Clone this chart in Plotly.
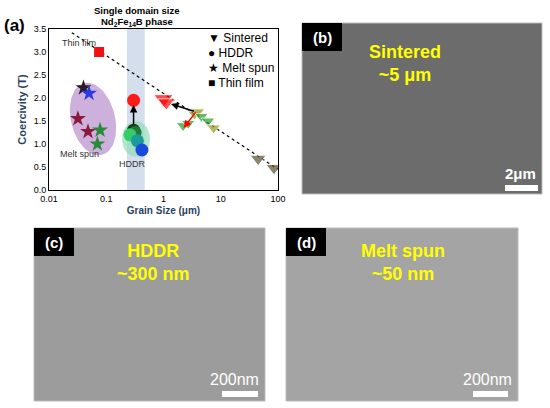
import numpy as np
import plotly.graph_objects as go

# ---- data ----
sint_x = [1.0, 1.12, 2.2, 2.7, 3.5, 4.0, 4.6, 6.0, 7.5, 45, 85]
sint_y = [1.98, 1.9, 1.4, 1.45, 1.65, 1.7, 1.6, 1.5, 1.35, 0.68, 0.48]
sint_c = ["#ff0000", "#ff0000", "#22a022", "#22a022", "#8a9a1a", "#9a9a20", "#22a022",
          "#22a022", "#9a9a20", "#5a5030", "#5a5030"]
sint_s = [17, 15, 12, 12, 12, 12, 12, 12, 12, 14, 14]
hddr_x = [0.3, 0.3, 0.32, 0.26, 0.35, 0.42]
hddr_y = [1.95, 1.3, 1.25, 1.2, 1.07, 0.87]
hddr_c = ["#ff1a1a", "#1a3a1a", "#1f7a3a", "#33cc66", "#1a9a9a", "#1a4adc"]
melt_x = [0.04, 0.05, 0.032, 0.048, 0.078, 0.07]
melt_y = [2.22, 2.1, 1.55, 1.27, 1.3, 1.0]
melt_c = ["#2a1a2a", "#2a3ae0", "#8a1a3a", "#8a1a3a", "#2a8a3a", "#2a8a3a"]
film_x = [0.075]
film_y = [3.0]
trend_x = [0.025, 100]
trend_y = [3.42, 0.45]
x_ticks = [0.01, 0.1, 1, 10, 100]
x_labels = ["0.01", "0.1", "1", "10", "100"]

fig = go.Figure()

PX0, PX1, PY0, PY1 = 49, 278, 29, 190

def ellipse(cx, cy, a, b, ang, color):
    t = np.linspace(0, 2 * np.pi, 100)
    r = np.deg2rad(ang)
    ex = a * np.cos(t); ey = b * np.sin(t)
    pxs = cx + ex * np.cos(r) - ey * np.sin(r)
    pys = cy + ex * np.sin(r) + ey * np.cos(r)
    lx = -2 + (pxs - PX0) / (PX1 - PX0) * 4
    ly = 3.5 * (PY1 - pys) / (PY1 - PY0)
    fig.add_trace(go.Scatter(x=10 ** lx, y=ly, mode="lines", fill="toself",
                             fillcolor=color, line=dict(width=0), hoverinfo="skip",
                             showlegend=False))

ellipse(93, 119, 22, 37, -14, "rgba(190,150,210,0.75)")
ellipse(136, 139, 14, 18, 0, "rgba(140,220,180,0.65)")

fig.add_vrect(x0=0.23, x1=0.47, fillcolor="rgba(170,190,220,0.5)", line_width=0, layer="below")

fig.add_trace(go.Scatter(x=trend_x, y=trend_y, mode="lines",
                         line=dict(color="black", width=1.2, dash="dot"), showlegend=False))
fig.add_trace(go.Scatter(x=sint_x, y=sint_y, mode="markers",
                         marker=dict(symbol="triangle-down", color=sint_c, size=sint_s), showlegend=False))
fig.add_trace(go.Scatter(x=hddr_x, y=hddr_y, mode="markers",
                         marker=dict(symbol="circle", color=hddr_c, size=13), showlegend=False))
fig.add_trace(go.Scatter(x=melt_x, y=melt_y, mode="markers",
                         marker=dict(symbol="star", color=melt_c, size=12), showlegend=False))
fig.add_trace(go.Scatter(x=film_x, y=film_y, mode="markers",
                         marker=dict(symbol="square", color="#ee1111", size=10), showlegend=False))

def arrow(x0, y0, x1, y1, color):
    fig.add_annotation(x=np.log10(x1), y=y1, ax=np.log10(x0), ay=y0, xref="x", yref="y",
                       axref="x", ayref="y", showarrow=True, arrowhead=2, arrowsize=1,
                       arrowwidth=1.5, arrowcolor=color, text="")

arrow(3.6, 1.7, 1.35, 1.87, "black")
arrow(3.8, 1.72, 2.25, 1.35, "red")
arrow(0.3, 1.4, 0.3, 1.85, "black")

fig.update_xaxes(type="log", range=[-2, 2], tickvals=x_ticks, ticktext=x_labels, automargin=False,
                 domain=[PX0 / 550, PX1 / 550], showline=True, linecolor="black", mirror=True,
                 showgrid=False, ticks="", tickfont=dict(size=9, family="Arial", color="black"),
                 title=dict(text="<b>Grain Size (μm)</b>", font=dict(size=10, family="Arial"), standoff=4))
fig.update_yaxes(range=[0, 3.5], dtick=0.5, tickformat=".1f", automargin=False,
                 domain=[1 - PY1 / 408, 1 - PY0 / 408],
                 showline=True, linecolor="black", mirror=True, showgrid=False, ticks="",
                 zeroline=False, tickfont=dict(size=9, family="Arial", color="black"),
                 title=dict(text="<b>Coercivity (T)</b>", font=dict(size=11, family="Arial"), standoff=4))

def px(x, y):
    return x / 550, 1 - y / 408

def text(x, y, s, size, color="black", bold=False, anchor="center"):
    X, Y = px(x, y)
    fig.add_annotation(x=X, y=Y, xref="paper", yref="paper", text=("<b>%s</b>" % s) if bold else s,
                       showarrow=False, xanchor=anchor, yanchor="middle",
                       font=dict(size=size, color=color, family="Arial"))

text(137, 10, "Single domain size", 9.5, bold=True)
text(137, 22, "Nd<sub>2</sub>Fe<sub>14</sub>B phase", 9.5, bold=True)
text(2, 25, "(a)", 17, bold=True, anchor="left")
text(60, 43, "Thin film", 9, color="#333", anchor="left")
text(58, 154, "Melt spun", 9, color="#333", anchor="left")
text(117, 164, "HDDR", 9, color="#333", anchor="left")
for i, (sym, lab) in enumerate([("▼", "Sintered"), ("●", "HDDR"), ("★", "Melt spun"), ("■", "Thin film")]):
    text(206, 38 + i * 15, sym + " " + lab, 12, anchor="left")

# micrograph panels
panels = [
    (302, 23, 542, 194, "#6c6c6c", "(b)", "Sintered<br>~5 μm", 405, 63, "2μm", 505, 538, 188),
    (34, 228, 265, 401, "#9c9c9c", "(c)", "HDDR<br>~300 nm", 153, 262, "200nm", 222, 258, 394),
    (286, 228, 518, 401, "#a4a4a4", "(d)", "Melt spun<br>~50 nm", 403, 262, "200nm", 473, 508, 394),
]
for (x0, y0, x1, y1, col, lab, cap, cx, cy, sb, sbx0, sbx1, sby) in panels:
    X0, Y0 = px(x0, y0); X1, Y1 = px(x1, y1)
    fig.add_shape(type="rect", xref="paper", yref="paper", x0=X0, x1=X1, y0=Y1, y1=Y0,
                  fillcolor=col, line=dict(color="#bbbbbb", width=1), layer="below")
    a0, b0 = px(x0, y0); a1, b1 = px(x0 + 40, y0 + 28)
    fig.add_shape(type="rect", xref="paper", yref="paper", x0=a0, x1=a1, y0=b1, y1=b0,
                  fillcolor="black", line_width=0)
    text(x0 + 20, y0 + 14, lab, 15, color="white", bold=True)
    text(cx, cy, cap, 18, color="#ffff00", bold=True)
    s0, t0 = px(sbx0, sby - 3); s1, t1 = px(sbx1, sby + 3)
    fig.add_shape(type="rect", xref="paper", yref="paper", x0=s0, x1=s1, y0=t1, y1=t0,
                  fillcolor="white", line_width=0)
    text(x1 - 4, sby - 15, sb, 16 if lab != "(b)" else 15, color="white", bold=(lab == "(b)"), anchor="right")

fig.update_layout(width=550, height=408, margin=dict(l=0, r=0, t=0, b=0),
                  paper_bgcolor="white", plot_bgcolor="white", showlegend=False)
fig.write_html("out.html", config={"displayModeBar": False},
               post_script="document.body.style.margin='0';document.body.style.overflow='hidden';")
